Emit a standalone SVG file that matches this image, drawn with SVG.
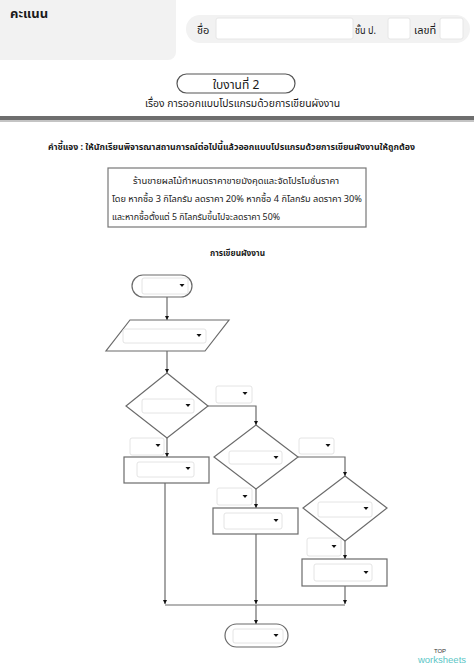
<svg xmlns="http://www.w3.org/2000/svg" width="474" height="670" viewBox="0 0 474 670">
<style>
text{font-family:"Noto Sans Thai","Noto Sans","Liberation Sans",sans-serif;fill:#1a1a1a}
.b{font-weight:bold}
.sh{fill:#fff;stroke:#6b6b6b;stroke-width:1.2}
.dd{fill:#fff;stroke:#e4e4e4;stroke-width:1}
.tri{fill:#111}
.ln{fill:none;stroke:#6b6b6b;stroke-width:1.2}
</style>
<defs>
<marker id="ah" viewBox="0 0 6 6" refX="6" refY="3" markerWidth="4" markerHeight="4" orient="auto" markerUnits="userSpaceOnUse">
<path d="M0,0 L6,3 L0,6 Z" fill="#111"/>
</marker>
</defs>
<rect width="474" height="670" fill="#fff"/>
<g id="header">
<rect x="-10" y="-10" width="186" height="70" rx="8" fill="#f2f2f2"/>
<text x="10" y="18" font-size="13" class="b">คะแนน</text>
<rect x="186" y="15" width="284" height="28" rx="14" fill="#f2f2f2"/>
<text x="197" y="34" font-size="11">ชื่อ</text>
<rect x="216" y="18" width="137" height="21" rx="2" fill="#fff" stroke="#e6e6e6"/>
<text x="355" y="34" font-size="11" textLength="21" lengthAdjust="spacingAndGlyphs">ชั้น ป.</text>
<rect x="388" y="18" width="22" height="21" rx="2" fill="#fff" stroke="#e6e6e6"/>
<text x="414" y="34" font-size="11">เลขที่</text>
<rect x="440" y="18" width="23" height="21" rx="2" fill="#fff" stroke="#e6e6e6"/>
</g>
<g id="title">
<rect x="177" y="74" width="118" height="19" rx="9.5" fill="#fff" stroke="#555" stroke-width="1.2"/>
<text x="236" y="89" font-size="12" text-anchor="middle">ใบงานที่ 2</text>
<text x="145" y="107" font-size="10.5" textLength="195" lengthAdjust="spacingAndGlyphs">เรื่อง การออกแบบโปรแกรมด้วยการเขียนผังงาน</text>
<rect x="0" y="116" width="474" height="4" fill="#6e6e6e"/>
<rect x="0" y="120" width="474" height="2" fill="#c4c4c4"/>
<text x="48" y="150" font-size="9.5" class="b" textLength="367" lengthAdjust="spacingAndGlyphs">คำชี้แจง  :  ให้นักเรียนพิจารณาสถานการณ์ต่อไปนี้แล้วออกแบบโปรแกรมด้วยการเขียนผังงานให้ถูกต้อง</text>
</g>
<g id="problem">
<rect x="108" y="168" width="258" height="59" fill="#fff" stroke="#777" stroke-width="1.2"/>
<text x="133" y="184" font-size="9.5" textLength="206" lengthAdjust="spacingAndGlyphs">ร้านขายผลไม้กำหนดราคาขายมังคุดและจัดโปรโมชั่นราคา</text>
<text x="112" y="202" font-size="9.5" textLength="250" lengthAdjust="spacingAndGlyphs">โดย หากซื้อ 3 กิโลกรัม ลดราคา 20%  หากซื้อ 4 กิโลกรัม ลดราคา 30%</text>
<text x="112" y="220" font-size="9.5" textLength="168" lengthAdjust="spacingAndGlyphs">และหากซื้อตั้งแต่ 5 กิโลกรัมขึ้นไปจะลดราคา 50%</text>
<text x="210" y="256" font-size="9.5" class="b" textLength="55" lengthAdjust="spacingAndGlyphs">การเขียนผังงาน</text>
</g>
<g id="connectors">
<line class="ln" x1="167" y1="297" x2="167" y2="320" marker-end="url(#ah)"/>
<line class="ln" x1="167" y1="351" x2="167" y2="373" marker-end="url(#ah)"/>
<line class="ln" x1="167" y1="438" x2="167" y2="457" marker-end="url(#ah)"/>
<path class="ln" d="M208,406 H256 V425" marker-end="url(#ah)"/>
<line class="ln" x1="256" y1="489" x2="256" y2="508" marker-end="url(#ah)"/>
<path class="ln" d="M298,457 H345 V476" marker-end="url(#ah)"/>
<line class="ln" x1="345" y1="541" x2="345" y2="559" marker-end="url(#ah)"/>
<line class="ln" x1="165" y1="483" x2="165" y2="604" marker-end="url(#ah)"/>
<line class="ln" x1="256" y1="534" x2="256" y2="604" marker-end="url(#ah)"/>
<line class="ln" x1="345" y1="586" x2="345" y2="604" marker-end="url(#ah)"/>
<line class="ln" x1="165" y1="605" x2="345" y2="605"/>
<line class="ln" x1="256" y1="605" x2="256" y2="624" marker-end="url(#ah)"/>
</g>
<g id="start">
<rect class="sh" x="132" y="275" width="60" height="22" rx="11"/>
<rect class="dd" x="142" y="278" width="46" height="16" rx="2"/>
<path class="tri" d="M179.5,284 h5 l-2.5,3 z"/>
</g>
<g id="input">
<polygon class="sh" points="130,320 229,320 205,351 106,351"/>
<rect class="dd" x="123" y="329" width="83" height="14" rx="2"/>
<path class="tri" d="M196.5,334 h5 l-2.5,3 z"/>
</g>
<g id="decision1">
<polygon class="sh" points="167,373 208,406 167,438 126,406"/>
<rect class="dd" x="142" y="399" width="52" height="14" rx="2"/>
<path class="tri" d="M185.5,404 h5 l-2.5,3 z"/>
</g>
<g id="label-d1-right">
<rect class="dd" x="216" y="386" width="36" height="17" rx="2"/>
<path class="tri" d="M242.5,392 h5 l-2.5,3 z"/>
</g>
<g id="label-d1-down">
<rect class="dd" x="130" y="438" width="34" height="17" rx="2"/>
<path class="tri" d="M155.5,444 h5 l-2.5,3 z"/>
</g>
<g id="process1">
<rect class="sh" x="124" y="457" width="85" height="26"/>
<rect class="dd" x="137" y="462" width="57" height="15" rx="2"/>
<path class="tri" d="M185.5,467 h5 l-2.5,3 z"/>
</g>
<g id="decision2">
<polygon class="sh" points="256,425 298,457 256,489 214,457"/>
<rect class="dd" x="229" y="451" width="53" height="13" rx="2"/>
<path class="tri" d="M273.5,456 h5 l-2.5,3 z"/>
</g>
<g id="label-d2-right">
<rect class="dd" x="299" y="438" width="35" height="16" rx="2"/>
<path class="tri" d="M325.5,444 h5 l-2.5,3 z"/>
</g>
<g id="label-d2-down">
<rect class="dd" x="217" y="488" width="35" height="17" rx="2"/>
<path class="tri" d="M242.5,495 h5 l-2.5,3 z"/>
</g>
<g id="process2">
<rect class="sh" x="213" y="508" width="85" height="26"/>
<rect class="dd" x="224" y="513" width="58" height="16" rx="2"/>
<path class="tri" d="M273.5,519 h5 l-2.5,3 z"/>
</g>
<g id="decision3">
<polygon class="sh" points="345,476 387,508 345,541 303,508"/>
<rect class="dd" x="318" y="502" width="54" height="15" rx="2"/>
<path class="tri" d="M363.5,507 h5 l-2.5,3 z"/>
</g>
<g id="label-d3-down">
<rect class="dd" x="307" y="538" width="34" height="18" rx="2"/>
<path class="tri" d="M331.5,545 h5 l-2.5,3 z"/>
</g>
<g id="process3">
<rect class="sh" x="302" y="559" width="85" height="27"/>
<rect class="dd" x="314" y="564" width="58" height="17" rx="2"/>
<path class="tri" d="M363.5,571 h5 l-2.5,3 z"/>
</g>
<g id="end">
<rect class="sh" x="225" y="624" width="63" height="23" rx="11.5"/>
<rect class="dd" x="233" y="629" width="50" height="14" rx="2"/>
<path class="tri" d="M273.5,634 h5 l-2.5,3 z"/>
</g>
<g id="logo">
<text x="440" y="653" font-size="6" text-anchor="middle" style="font-family:'Liberation Sans',sans-serif;fill:#333">TOP</text>
<text x="442" y="663" font-size="9.5" text-anchor="middle" style="font-family:'Liberation Sans',sans-serif;fill:#5cc6c6">worksheets</text>
</g>
</svg>
